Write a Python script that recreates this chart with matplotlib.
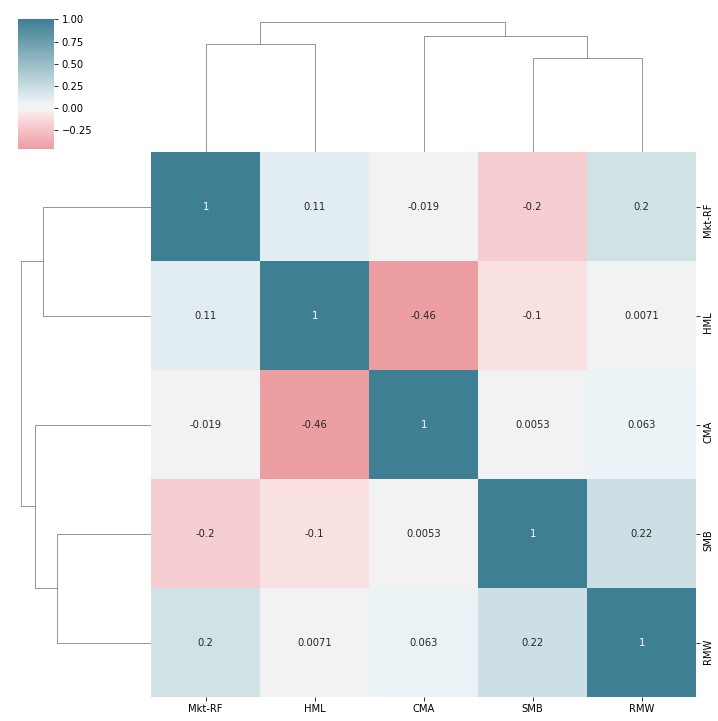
import colorsys

import numpy as np
import pandas as pd
import matplotlib
matplotlib.use("Agg")
import matplotlib.pyplot as plt
from matplotlib.colors import LinearSegmentedColormap
from matplotlib.transforms import Bbox
import seaborn as sns
from seaborn.external import husl

factors = ["Mkt-RF", "SMB", "HML", "RMW", "CMA"]

mkt_rf = [1.0, -0.2, 0.11, 0.2, -0.019]
smb = [-0.2, 1.0, -0.1, 0.22, 0.0053]
hml = [0.11, -0.1, 1.0, 0.0071, -0.46]
rmw = [0.2, 0.22, 0.0071, 1.0, 0.063]
cma = [-0.019, 0.0053, -0.46, 0.063, 1.0]

corr = pd.DataFrame([mkt_rf, smb, hml, rmw, cma], index=factors, columns=factors)


def light_end(rgb):
    # old-style light_palette: same hue/sat, lightness pushed to .95
    h, l, s = colorsys.rgb_to_hls(*rgb)
    return colorsys.hls_to_rgb(h, 0.95, s)


# diverging palette in the older seaborn style (grey band of width sep at centre)
sep = 10
n_half = 128 - sep // 2
neg = np.array(husl.husl_to_rgb(10, 75, 50))
pos = np.array(husl.husl_to_rgb(220, 75, 50))
t = np.linspace(0, 1, n_half)[:, None]
neg_ramp = neg + (np.array(light_end(neg)) - neg) * t
pos_ramp = np.array(light_end(pos)) + (pos - np.array(light_end(pos))) * t
mid = np.full((sep, 3), 0.95)
cmap = LinearSegmentedColormap.from_list("div", np.vstack([neg_ramp, mid, pos_ramp]))

g = sns.clustermap(corr, cmap=cmap, center=0, annot=True, figsize=(10, 10))
box = Bbox([[-4 / 72, 4 / 72], [714 / 72, 725 / 72]])
g.figure.savefig("out.png", dpi=72, bbox_inches=box)
